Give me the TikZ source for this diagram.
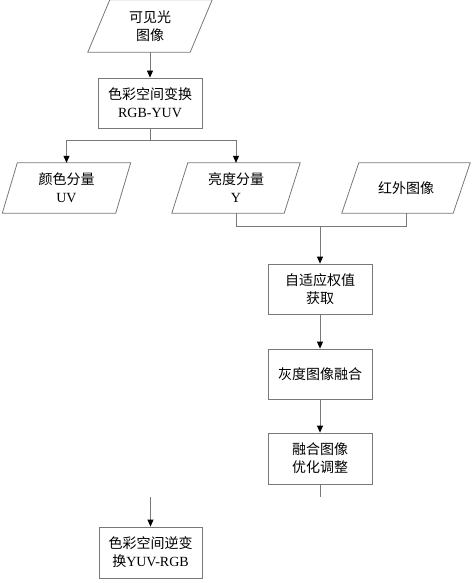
\documentclass[tikz,border=0pt]{standalone}
\usepackage{fontspec}
\setmainfont{Liberation Serif}
\newfontfamily\cjk{Noto Sans CJK SC}
\usetikzlibrary{arrows.meta,calc}
\definecolor{linegray}{RGB}{120,120,120}

% parallelogram drawn round a named node: #1 node, #2 skew
\newcommand{\ioshape}[2]{%
  \draw[linegray, line width=0.8pt] ($(#1.north west)+(#2,0)$) -- (#1.north east)
    -- ($(#1.south east)-(#2,0)$) -- (#1.south west) -- cycle;}

\begin{document}
\begin{tikzpicture}[x=1pt, y=-1pt, >={Triangle[width=6pt,length=7pt,color=black]},
  every node/.style={font=\fontsize{14}{18}\selectfont, align=center, inner sep=0pt},
  procbox/.style={draw=linegray, line width=0.8pt, minimum width=104pt, minimum height=50pt},
  iobox/.style={minimum width=128pt, minimum height=50pt},
  flow/.style={draw=linegray, line width=0.8pt}]

  \useasboundingbox (0,0) rectangle (474,583);

  % input image
  \node[iobox, minimum width=124pt, minimum height=52pt] (vis) at (150,26) {{\cjk 可见光}\\{\cjk 图像}};
  \ioshape{vis}{22}

  % colour space transform
  \node[procbox] (csc) at (150,103) {{\cjk 色彩空间变换}\\RGB-YUV};

  % components
  \node[iobox] (uv) at (66.5,188) {{\cjk 颜色分量}\\UV};
  \ioshape{uv}{15}
  \node[iobox] (lum) at (236,188) {{\cjk 亮度分量}\\Y};
  \ioshape{lum}{16}
  \node[iobox] (ir) at (406,188) {\cjk 红外图像};
  \ioshape{ir}{17}

  % fusion chain
  \node[procbox] (wgt) at (320,289) {{\cjk 自适应权值}\\{\cjk 获取}};
  \node[procbox] (fuse) at (320,374) {\cjk 灰度图像融合};
  \node[procbox, minimum height=51pt] (opt) at (320,458.5) {{\cjk 融合图像}\\{\cjk 优化调整}};

  % inverse transform
  \node[procbox, minimum width=103pt, minimum height=51pt] (inv) at (150.5,552.5) {{\cjk 色彩空间逆变}\\{\cjk 换}YUV-RGB};

  % connectors
  \draw[flow, ->] (vis.south) -- (csc.north);

  \coordinate (split) at (150,140);
  \draw[flow] (csc.south) -- (split);
  \draw[flow] (uv.north |- split) -- (lum.north |- split);
  \draw[flow, ->] (uv.north |- split) -- (uv.north);
  \draw[flow, ->] (lum.north |- split) -- (lum.north);

  \coordinate (merge) at (320,226);
  \draw[flow] (lum.south) -- (lum.south |- merge) -- (ir.south |- merge) -- (ir.south);
  \draw[flow, ->] (merge) -- (wgt.north);

  \draw[flow, ->] (wgt.south) -- (fuse.north);
  \draw[flow, ->] (fuse.south) -- (opt.north);

  \coordinate (optend) at (320,497);
  \draw[flow] (opt.south) -- (optend);
  \coordinate (invtop) at (150.5,497);
  \draw[flow, ->] (invtop) -- (inv.north);

\end{tikzpicture}
\end{document}
